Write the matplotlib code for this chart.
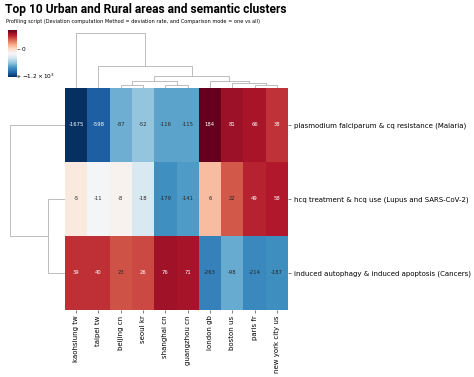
import numpy as np
import matplotlib
matplotlib.use("Agg")
import matplotlib.pyplot as plt
from matplotlib import colors as mcolors
from matplotlib import font_manager

cities = ["kaohsiung tw", "taipei tw", "beijing cn", "seoul kr", "shanghai cn",
          "guangzhou cn", "london gb", "boston us", "paris fr", "new york city us"]
clusters = ["plasmodium falciparum & cq resistance (Malaria)",
            "hcq treatment & hcq use (Lupus and SARS-CoV-2)",
            "induced autophagy & induced apoptosis (Cancers)"]
malaria = [-1675, -598, -87, -52, -116, -115, 184, 81, 66, 38]
lupus = [-5, -11, -8, -18, -179, -141, 6, 22, 49, 58]
cancers = [39, 40, 23, 26, 76, 71, -263, -98, -214, -187]

# linkage: (child a, child b, height), scipy-style ids
col_links = [(8, 9, 2.5), (2, 3, 3.3), (4, 5, 3.0), (7, 10, 5.0), (6, 13, 7.0),
             (11, 12, 7.0), (15, 14, 12.0), (1, 16, 22.0), (0, 17, 55.0)]
row_links = [(1, 2, 17.0), (0, 3, 55.0)]

data = np.array([malaria, lupus, cancers], dtype=float)
nrow, ncol = data.shape

W, H = 474, 377
fig = plt.figure(figsize=(W / 100, H / 100), dpi=100)


def fbox(x0, y0, x1, y1):
    return [x0 / W, 1 - y1 / H, (x1 - x0) / W, (y1 - y0) / H]


def tree_segments(links, n):
    pos = {i: (i + 0.5, 0.0) for i in range(n)}
    segs = []
    for k, (a, b, h) in enumerate(links):
        xa, ha = pos[a]
        xb, hb = pos[b]
        segs.append(([xa, xa, xb, xb], [ha, h, h, hb]))
        pos[n + k] = ((xa + xb) / 2, h)
    return segs


norm = mcolors.SymLogNorm(linthresh=23, linscale=1, vmin=-1675, vmax=184, base=10)
cmap = plt.get_cmap("RdBu_r")

ax = fig.add_axes(fbox(65, 88, 288, 310))
mesh = ax.pcolormesh(data, cmap=cmap, norm=norm)
ax.set_xlim(0, ncol)
ax.set_ylim(nrow, 0)
for s in ax.spines.values():
    s.set_visible(False)
for i in range(nrow):
    for j in range(ncol):
        r, g, b, _ = cmap(norm(data[i, j]))
        lum = 0.2126 * r + 0.7152 * g + 0.0722 * b
        ax.text(j + 0.5, i + 0.5, "%d" % data[i, j], ha="center", va="center",
                fontsize=3.8, color=".15" if lum > .408 else "w")
ax.set_xticks(np.arange(ncol) + 0.5)
ax.set_xticklabels(cities, rotation=90, fontsize=5.0)
ax.yaxis.tick_right()
ax.set_yticks(np.arange(nrow) + 0.5)
ax.set_yticklabels(clusters, fontsize=5.0)
ax.tick_params(length=2.5, width=0.5, pad=1.5, color=".3")

tree_kw = dict(color="0.7", lw=0.6)

cax_d = fig.add_axes(fbox(65, 30, 288, 88))
for xs, ys in tree_segments(col_links, ncol):
    cax_d.plot(xs, ys, **tree_kw)
cax_d.set_xlim(0, ncol)
cax_d.set_ylim(0, max(l[2] for l in col_links) * 1.05)
cax_d.axis("off")

rax_d = fig.add_axes(fbox(7, 88, 65, 310))
for xs, ys in tree_segments(row_links, nrow):
    rax_d.plot(ys, xs, **tree_kw)
rax_d.set_ylim(nrow, 0)
rax_d.set_xlim(max(l[2] for l in row_links) * 1.05, 0)
rax_d.axis("off")

cb_ax = fig.add_axes(fbox(8, 30, 17, 77))
cb = fig.colorbar(mesh, cax=cb_ax)
cb.outline.set_visible(False)
cb.set_ticks([-1200, 0])
cb.set_ticklabels([r"$-1.2\times10^{3}$", "0"])
cb_ax.yaxis.set_ticks([-1000, -1400, -1600], minor=True)
cb_ax.tick_params(labelsize=4.2, length=2, width=0.5, pad=1.5, color=".3")
cb_ax.tick_params(which="minor", length=1.2, width=0.4, color=".3")

title = fig.text(5 / W, 1 - 3 / H, "Top 10 Urban and Rural areas and semantic clusters",
                 fontsize=12, fontweight="bold", family=["Roboto", "DejaVu Sans"],
                 va="top", ha="left")
fig.canvas.draw()
bb = title.get_window_extent()
title.set_fontsize(12 * 282 / bb.width)
fig.text(6 / W, 1 - 19 / H,
         "Profiling script (Deviation computation Method = deviation rate, and Comparison mode = one vs all)",
         fontsize=3.6, va="top", ha="left")

fig.savefig("out.png", dpi=100)
